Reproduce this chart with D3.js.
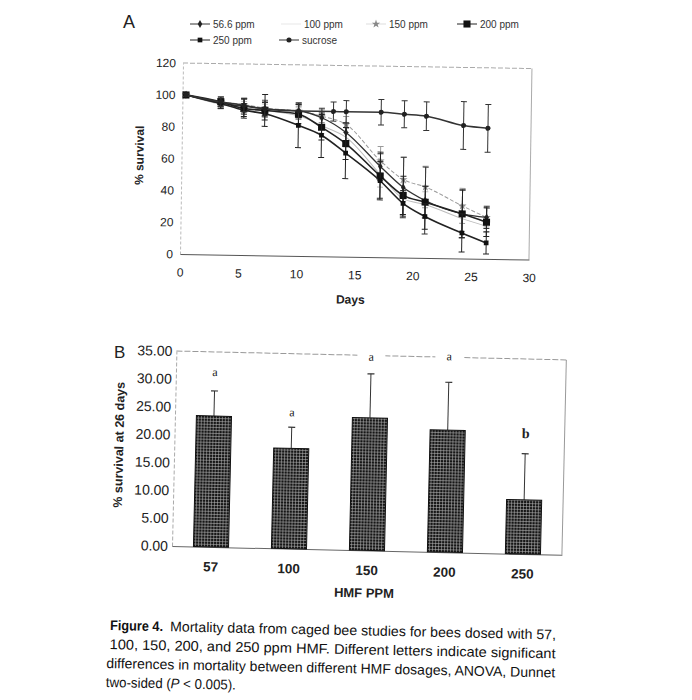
<!DOCTYPE html>
<html lang="en">
<head>
<meta charset="utf-8">
<title>Figure 4 - HMF bee mortality</title>
<script src="https://cdnjs.cloudflare.com/ajax/libs/d3/7.8.5/d3.min.js"></script>
<style>
  body { margin:0; background:#fff; }
  svg { display:block; font-family:"Liberation Sans", Arial, sans-serif; }
</style>
</head>
<body>
<div id="fig"></div>
<script>
// panel A - % survival by day
var days        = [0.3, 3.3, 5.3, 7.1, 10, 12, 14.1, 17.1, 19.1, 21, 24.2, 26.3];
var sucroseDays = [0.3, 3.3, 5.3, 7.1, 10, 13, 14.1, 17.1, 19.1, 21, 24.2, 26.3];
var ppm566  = [100, 95, 93.5, 92, 91, 87, 78, 57, 44, 36, 28, 26];
var err566  = [1, 3, 5, 5, 4, 6, 6, 9, 19, 21, 15, 7];
var ppm100  = [100, 94.5, 92.5, 91, 88, 82, 75, 52, 37, 33.5, 25, 20.5];
var err100  = [1, 3, 4, 4, 5, 5, 6, 8, 10, 8, 8, 4];
var ppm150  = [100, 96, 94.5, 92.5, 91, 88, 83, 60.5, 49, 44.5, 33, 26];
var err150  = [1, 2, 4, 5, 3, 4, 5, 9, 14, 13, 11, 6];
var ppm200  = [100, 96, 92, 91, 89, 81, 71, 51, 39, 35, 28, 23];
var err200  = [1, 3, 6, 10, 6, 8, 10, 14, 12, 10, 15, 9];
var ppm250  = [100, 95, 91, 89, 82, 76, 65, 48, 34, 26, 16, 10];
var err250  = [1, 3, 4, 4, 14, 14, 16, 12, 8, 8, 12, 7];
var sucrose = [100, 96, 94, 92, 91, 91, 91, 91, 90, 89, 83.5, 82];
var errSuc  = [1, 3, 4, 4, 5, 6, 7, 8, 8.5, 9, 15, 15];
var yTicksA = [0, 20, 40, 60, 80, 100, 120];
var xTicksA = [0, 5, 10, 15, 20, 25, 30];

// panel B - % survival at 26 days
var doses   = ["57", "100", "150", "200", "250"];
var surv26  = [23.5, 18.0, 23.8, 21.9, 9.7];
var sd26    = [4.5, 3.8, 7.9, 8.6, 8.3];
var letters = ["a", "a", "a", "a", "b"];
var letterAt = [31.2, 24.3, 34.6, 35, 21.7];
var yTicksB = [0, 5, 10, 15, 20, 25, 30, 35];

var svg = d3.select("#fig").append("svg")
  .attr("width", 692)
  .attr("height", 700);

var defs = svg.append("defs");
var pat = defs.append("pattern")
  .attr("id", "hatch")
  .attr("width", 3).attr("height", 3)
  .attr("patternUnits", "userSpaceOnUse");
pat.append("rect").attr("width", 3).attr("height", 3).attr("fill", "#161616");
pat.append("path").attr("d", "M0 0.4H3M0.4 0V3")
  .attr("stroke", "#fff").attr("stroke-width", 0.6).attr("opacity", 0.7);

// ---------- panel A ----------
svg.append("text").attr("x", 123).attr("y", 28)
  .style("font-size", "18px").attr("fill", "#222").text("A");

var series = [
  {name: "100 ppm", x: days, v: ppm100, e: err100, line: "#bdbdbd", w: 1, dash: null, sym: null, size: 0, fill: "#bbb"},
  {name: "150 ppm", x: days, v: ppm150, e: err150, line: "#9a9a9a", w: 1, dash: "4,2", sym: d3.symbolStar, size: 22, fill: "#888"},
  {name: "56.6 ppm", x: days, v: ppm566, e: err566, line: "#333", w: 1.3, dash: null, sym: d3.symbolDiamond, size: 18, fill: "#222"},
  {name: "200 ppm", x: days, v: ppm200, e: err200, line: "#222", w: 1.6, dash: null, sym: d3.symbolSquare, size: 50, fill: "#111"},
  {name: "250 ppm", x: days, v: ppm250, e: err250, line: "#222", w: 1.6, dash: null, sym: d3.symbolSquare, size: 22, fill: "#111"},
  {name: "sucrose", x: sucroseDays, v: sucrose, e: errSuc, line: "#333", w: 1.5, dash: null, sym: d3.symbolCircle, size: 20, fill: "#222"}
];

// legend (not tilted in the scan)
var legendSpots = {
  "56.6 ppm": [190, 24], "100 ppm": [281, 24], "150 ppm": [366, 24], "200 ppm": [457, 24],
  "250 ppm": [190, 40], "sucrose": [279, 40]
};
series.forEach(function(s) {
  var p = legendSpots[s.name];
  var lg = svg.append("g").attr("transform", "translate(" + p[0] + "," + p[1] + ")");
  lg.append("line").attr("x1", 0).attr("x2", 20).attr("y1", 0).attr("y2", 0)
    .attr("stroke", s.name == "150 ppm" ? "#ddd" : s.line).attr("stroke-width", 1)
    .attr("opacity", s.name == "100 ppm" ? 0.35 : 1);
  if (s.sym) {
    lg.append("path").attr("transform", "translate(10,0)")
      .attr("d", d3.symbol().type(s.sym).size(s.size))
      .attr("fill", s.fill);
  }
  lg.append("text").attr("x", 23).attr("y", 3.5)
    .style("font-size", "10px").attr("fill", "#333").text(s.name);
});

var xA = d3.scaleLinear().domain([0, 30]).range([180, 529]);
var yA = d3.scaleLinear().domain([0, 120]).range([254, 63]);

var gA = svg.append("g").attr("transform", "rotate(0.9,180,254)");

// frame
gA.append("line").attr("x1", xA(0)).attr("x2", xA(30)).attr("y1", yA(120)).attr("y2", yA(120))
  .attr("stroke", "#aaa").attr("stroke-dasharray", "5,2");
gA.append("line").attr("x1", xA(30)).attr("x2", xA(30)).attr("y1", yA(120)).attr("y2", yA(0))
  .attr("stroke", "#aaa");

var axA = gA.append("g").attr("transform", "translate(" + xA(0) + ",0)")
  .call(d3.axisLeft(yA).tickValues(yTicksA).tickSize(0).tickPadding(7));
axA.select(".domain").attr("stroke", "#bbb").attr("stroke-dasharray", "3,2");
axA.selectAll("text").style("font-size", "12px").attr("fill", "#222");

var bxA = gA.append("g").attr("transform", "translate(0," + yA(0) + ")")
  .call(d3.axisBottom(xA).tickValues(xTicksA).tickSize(0).tickPadding(14));
bxA.select(".domain").attr("stroke", "#555");
bxA.selectAll("text").style("font-size", "12px").attr("fill", "#222");

gA.append("text").attr("x", 351).attr("y", 301).attr("text-anchor", "middle")
  .style("font-size", "12px").style("font-weight", "bold").attr("fill", "#222").text("Days");
gA.append("text").attr("transform", "translate(142,156) rotate(-90)").attr("text-anchor", "middle")
  .style("font-size", "12px").style("font-weight", "bold").attr("fill", "#222").text("% survival");

var lineA = d3.line().curve(d3.curveMonotoneX)
  .x(function(d) { return xA(d[0]); })
  .y(function(d) { return yA(d[1]); });

series.forEach(function(s) {
  var pts = s.x.map(function(dx, i) { return [dx, s.v[i], s.e[i]]; });
  var g = gA.append("g");

  g.selectAll("line.err").data(pts).enter().append("line")
    .attr("class", "err")
    .attr("x1", function(d) { return xA(d[0]); })
    .attr("x2", function(d) { return xA(d[0]); })
    .attr("y1", function(d) { return yA(d[1] + d[2]); })
    .attr("y2", function(d) { return yA(Math.max(0, d[1] - d[2])); })
    .attr("stroke", s.line).attr("stroke-width", 1);
  [1, -1].forEach(function(sign) {
    g.selectAll("line.cap" + sign).data(pts).enter().append("line")
      .attr("x1", function(d) { return xA(d[0]) - 3; })
      .attr("x2", function(d) { return xA(d[0]) + 3; })
      .attr("y1", function(d) { return yA(Math.max(0, d[1] + sign * d[2])); })
      .attr("y2", function(d) { return yA(Math.max(0, d[1] + sign * d[2])); })
      .attr("stroke", s.line).attr("stroke-width", 1);
  });

  g.append("path").datum(pts)
    .attr("d", lineA)
    .attr("fill", "none")
    .attr("stroke", s.line)
    .attr("stroke-width", s.w)
    .attr("stroke-dasharray", s.dash);

  if (s.sym) {
    g.selectAll("path.pt").data(pts).enter().append("path")
      .attr("class", "pt")
      .attr("transform", function(d) { return "translate(" + xA(d[0]) + "," + yA(d[1]) + ")"; })
      .attr("d", d3.symbol().type(s.sym).size(s.size))
      .attr("fill", s.fill);
  }
});

// ---------- panel B ----------
svg.append("text").attr("x", 114).attr("y", 358)
  .style("font-size", "17px").attr("fill", "#222").text("B");

var xB = d3.scaleBand().domain(doses).range([172, 562]).paddingInner(0.55).paddingOuter(0.275);
var yB = d3.scaleLinear().domain([0, 35]).range([546, 351]);

var gB = svg.append("g").attr("transform", "rotate(1.3,172,546)");

gB.append("line").attr("x1", 172).attr("x2", 562).attr("y1", yB(35)).attr("y2", yB(35))
  .attr("stroke", "#999").attr("stroke-dasharray", "6,2");
gB.append("line").attr("x1", 562).attr("x2", 562).attr("y1", yB(35)).attr("y2", yB(0))
  .attr("stroke", "#999");

var axB = gB.append("g").attr("transform", "translate(172,0)")
  .call(d3.axisLeft(yB).tickValues(yTicksB).tickSize(0).tickPadding(4).tickFormat(d3.format(".2f")));
axB.select(".domain").attr("stroke", "#aaa").attr("stroke-dasharray", "4,2");
axB.selectAll("text").style("font-size", "14px").attr("fill", "#222");

var bxB = gB.append("g").attr("transform", "translate(0," + yB(0) + ")")
  .call(d3.axisBottom(xB).tickSize(0).tickPadding(15));
bxB.select(".domain").attr("stroke", "#666");
bxB.selectAll("text").style("font-size", "13.5px").style("font-weight", "bold").attr("fill", "#222");

gB.append("text").attr("x", 365).attr("y", 593).attr("text-anchor", "middle")
  .style("font-size", "13px").style("font-weight", "bold").attr("fill", "#222").text("HMF PPM");
gB.append("text").attr("transform", "translate(121,446) rotate(-90)").attr("text-anchor", "middle")
  .style("font-size", "12.5px").style("font-weight", "bold").attr("fill", "#222").text("% survival at 26 days");

var barsB = doses.map(function(d, i) { return {dose: d, v: surv26[i], sd: sd26[i], letter: letters[i], lab: letterAt[i]}; });

gB.selectAll("line.sd").data(barsB).enter().append("line")
  .attr("x1", function(d) { return xB(d.dose) + xB.bandwidth() / 2; })
  .attr("x2", function(d) { return xB(d.dose) + xB.bandwidth() / 2; })
  .attr("y1", function(d) { return yB(d.v); })
  .attr("y2", function(d) { return yB(d.v + d.sd); })
  .attr("stroke", "#333");
gB.selectAll("line.cap").data(barsB).enter().append("line")
  .attr("x1", function(d) { return xB(d.dose) + xB.bandwidth() / 2 - 3.5; })
  .attr("x2", function(d) { return xB(d.dose) + xB.bandwidth() / 2 + 3.5; })
  .attr("y1", function(d) { return yB(d.v + d.sd); })
  .attr("y2", function(d) { return yB(d.v + d.sd); })
  .attr("stroke", "#333").attr("stroke-width", 1.2);

gB.selectAll("rect.bar").data(barsB).enter().append("rect")
  .attr("class", "bar")
  .attr("x", function(d) { return xB(d.dose); })
  .attr("width", xB.bandwidth())
  .attr("y", function(d) { return yB(d.v); })
  .attr("height", function(d) { return yB(0) - yB(d.v); })
  .attr("fill", "url(#hatch)")
  .attr("stroke", "#111").attr("stroke-width", 1);

gB.selectAll("rect.lbg").data(barsB).enter().append("rect")
  .attr("x", function(d) { return xB(d.dose) + xB.bandwidth() / 2 - 14; })
  .attr("width", 28)
  .attr("y", function(d) { return yB(d.lab) - 7; })
  .attr("height", 14)
  .attr("fill", "#fff");
gB.selectAll("text.let").data(barsB).enter().append("text")
  .attr("x", function(d) { return xB(d.dose) + xB.bandwidth() / 2; })
  .attr("y", function(d) { return yB(d.lab) + (d.letter == "b" ? 5 : 3); })
  .attr("text-anchor", "middle")
  .style("font-family", "'Liberation Serif', serif")
  .style("font-size", function(d) { return d.letter == "b" ? "14px" : "12px"; })
  .style("font-weight", function(d) { return d.letter == "b" ? "bold" : "normal"; })
  .attr("fill", "#222")
  .text(function(d) { return d.letter; });

// ---------- caption ----------
var cap = svg.append("g").attr("transform", "rotate(1.2,108,630)")
  .style("font-size", "14px").attr("fill", "#111");
cap.append("text").attr("x", 110).attr("y", 630)
  .style("font-weight", "bold").attr("textLength", 53).attr("lengthAdjust", "spacingAndGlyphs")
  .text("Figure 4.");
cap.append("text").attr("x", 170).attr("y", 630)
  .attr("textLength", 386).attr("lengthAdjust", "spacingAndGlyphs")
  .text("Mortality data from caged bee studies for bees dosed with 57,");
cap.append("text").attr("x", 110).attr("y", 649)
  .attr("textLength", 446).attr("lengthAdjust", "spacingAndGlyphs")
  .text("100, 150, 200, and 250 ppm HMF. Different letters indicate significant");
cap.append("text").attr("x", 107).attr("y", 668)
  .attr("textLength", 449).attr("lengthAdjust", "spacingAndGlyphs")
  .text("differences in mortality between different HMF dosages, ANOVA, Dunnet");
var last = cap.append("text").attr("x", 107).attr("y", 687)
  .attr("textLength", 130).attr("lengthAdjust", "spacingAndGlyphs");
last.append("tspan").text("two-sided (");
last.append("tspan").style("font-style", "italic").text("P");
last.append("tspan").text(" < 0.005).");
</script>
</body>
</html>
